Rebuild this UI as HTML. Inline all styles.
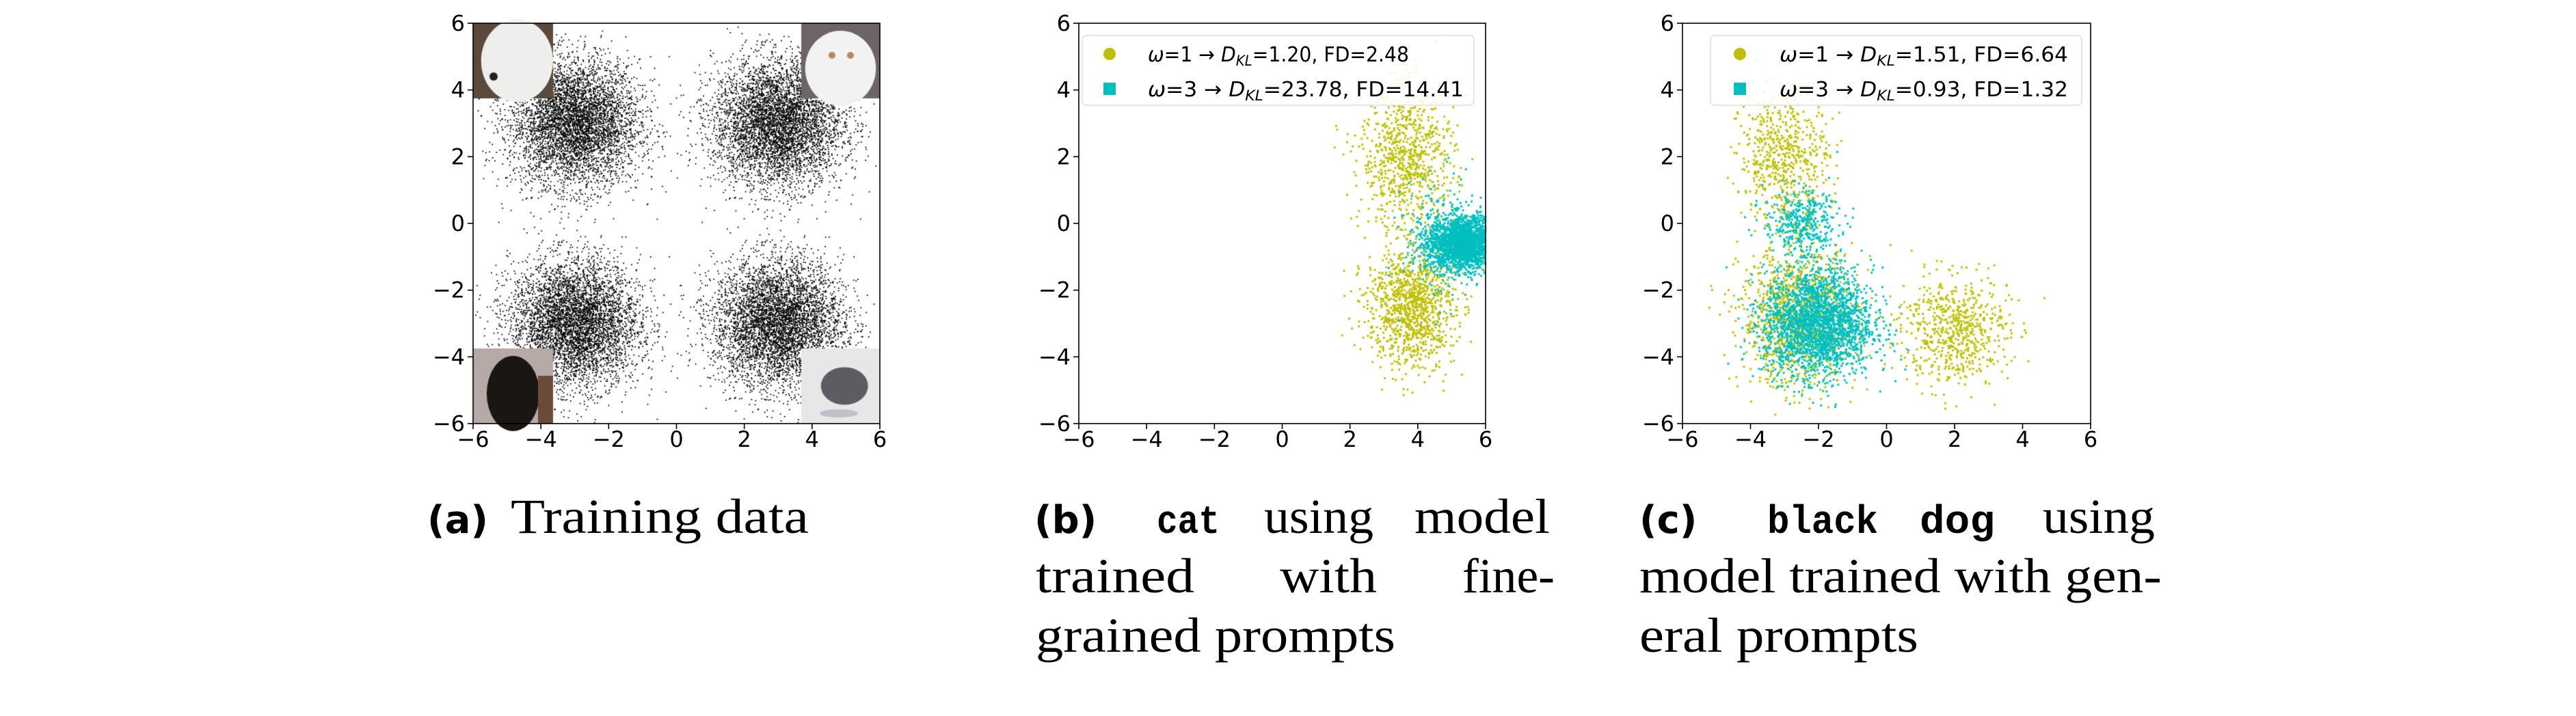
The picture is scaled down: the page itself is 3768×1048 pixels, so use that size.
<!DOCTYPE html>
<html><head><meta charset="utf-8">
<style>
html,body{margin:0;padding:0;background:#fff;}
#wrap{position:relative;width:3768px;height:1048px;overflow:hidden;background:#fff;}
canvas,svg{position:absolute;left:0;top:0;}
</style></head>
<body><div id="wrap">
<canvas id="cv" width="3768" height="1048"></canvas>
<svg width="3768" height="1048" xmlns="http://www.w3.org/2000/svg" id="sv">
<g id="axes"></g>
<g font-family="DejaVu Sans, sans-serif" font-size="30" fill="#000">
 <rect x="1583" y="52" width="573" height="102" rx="6" fill="#fff" fill-opacity="0.85" stroke="#ddd" stroke-width="1.5"/>
 <circle cx="1623" cy="79" r="9" fill="#bfbf00"/>
 <rect x="1614" y="121" width="18" height="18" fill="#00bfbf"/>
 <text x="1679" y="90" textLength="382" lengthAdjust="spacingAndGlyphs"><tspan font-style="italic">ω</tspan>=1 → <tspan font-style="italic">D</tspan><tspan font-style="italic" font-size="21" dy="6">KL</tspan><tspan dy="-6">=1.20, FD=2.48</tspan></text>
 <text x="1679" y="141" textLength="462" lengthAdjust="spacingAndGlyphs"><tspan font-style="italic">ω</tspan>=3 → <tspan font-style="italic">D</tspan><tspan font-style="italic" font-size="21" dy="6">KL</tspan><tspan dy="-6">=23.78, FD=14.41</tspan></text>

 <rect x="2502" y="52" width="543" height="102" rx="6" fill="#fff" fill-opacity="0.85" stroke="#ddd" stroke-width="1.5"/>
 <circle cx="2545" cy="79" r="9" fill="#bfbf00"/>
 <rect x="2536" y="121" width="18" height="18" fill="#00bfbf"/>
 <text x="2603" y="90" textLength="422" lengthAdjust="spacingAndGlyphs"><tspan font-style="italic">ω</tspan>=1 → <tspan font-style="italic">D</tspan><tspan font-style="italic" font-size="21" dy="6">KL</tspan><tspan dy="-6">=1.51, FD=6.64</tspan></text>
 <text x="2603" y="141" textLength="422" lengthAdjust="spacingAndGlyphs"><tspan font-style="italic">ω</tspan>=3 → <tspan font-style="italic">D</tspan><tspan font-style="italic" font-size="21" dy="6">KL</tspan><tspan dy="-6">=0.93, FD=1.32</tspan></text>
</g>
<g font-family="Liberation Serif, serif" font-size="72" fill="#000">
 <text x="625" y="780" font-family="DejaVu Sans, sans-serif" font-weight="bold" font-size="56">(a)</text>
 <text x="747" y="780" textLength="436" lengthAdjust="spacingAndGlyphs">Training data</text>

 <text x="1513" y="780" font-family="DejaVu Sans, sans-serif" font-weight="bold" font-size="56">(b)</text>
 <text x="1692" y="780" font-family="Liberation Mono, monospace" font-weight="bold" font-size="58" textLength="92" lengthAdjust="spacingAndGlyphs">cat</text>
 <text x="1849" y="780" textLength="160" lengthAdjust="spacingAndGlyphs">using</text>
 <text x="2069" y="780" textLength="198" lengthAdjust="spacingAndGlyphs">model</text>
 <text x="1515" y="867" textLength="232" lengthAdjust="spacingAndGlyphs">trained</text>
 <text x="1872" y="867" textLength="142" lengthAdjust="spacingAndGlyphs">with</text>
 <text x="2139" y="867" textLength="135" lengthAdjust="spacingAndGlyphs">fine-</text>
 <text x="1515" y="954" textLength="526" lengthAdjust="spacingAndGlyphs">grained prompts</text>

 <text x="2398" y="780" font-family="DejaVu Sans, sans-serif" font-weight="bold" font-size="56">(c)</text>
 <text x="2585" y="780" font-family="Liberation Mono, monospace" font-weight="bold" font-size="58" textLength="162" lengthAdjust="spacingAndGlyphs">black</text>
 <text x="2808" y="780" font-family="Liberation Mono, monospace" font-weight="bold" font-size="58" textLength="110" lengthAdjust="spacingAndGlyphs">dog</text>
 <text x="2988" y="780" textLength="164" lengthAdjust="spacingAndGlyphs">using</text>
 <text x="2398" y="867" textLength="764" lengthAdjust="spacingAndGlyphs">model trained with gen-</text>
 <text x="2398" y="954" textLength="408" lengthAdjust="spacingAndGlyphs">eral prompts</text>
</g>
</svg>
</div>
<script>
(function(){
var seed=12345;
function rnd(){seed=(seed*1103515245+12345)%2147483648;return seed/2147483648;}
function gauss(){var u=rnd()||1e-9,v=rnd();return Math.sqrt(-2*Math.log(u))*Math.cos(2*Math.PI*v);}
var plots=[{x0:692,x1:1287},{x0:1578,x1:2173},{x0:2461,x1:3058}];
var Y0=34,Y1=620;
var cv=document.getElementById('cv'),c=cv.getContext('2d');
function mx(p,v){return p.x0+(v+6)/12*(p.x1-p.x0);}
function my(v){return Y0+(6-v)/12*(Y1-Y0);}
function cluster(p,cx,cy,sx,sy,n,col,sz){
  c.fillStyle=col;
  for(var i=0;i<n;i++){var x=cx+gauss()*sx,y=cy+gauss()*sy;
    if(x<-6||x>6||y<-6||y>6)continue;
    c.fillRect(mx(p,x)-sz/2,my(y)-sz/2,sz,sz);}
}
var pa=plots[0];
[[-3,3],[3,3],[-3,-3],[3,-3]].forEach(function(q){cluster(pa,q[0],q[1],0.95,0.95,5000,'#000',1.8);});
function pic(x,y,w,h,bg,fg,fgx,fgy,rw,rh){
  c.fillStyle=bg;c.fillRect(x,y,w,h);
  c.fillStyle=fg;c.beginPath();c.ellipse(x+w*fgx,y+h*fgy,w*rw,h*rh,0,0,Math.PI*2);c.fill();
}
pic(692,34,117,110,'#5a4a3c','#eeeeec',0.55,0.5,0.45,0.55);
c.fillStyle='#222';c.beginPath();c.arc(692+30,34+78,6,0,7);c.fill();
pic(1172,34,115,110,'#6e6468','#f2f2f2',0.5,0.6,0.45,0.5);
c.fillStyle='#b8875a';c.beginPath();c.arc(1172+45,34+47,5,0,7);c.arc(1172+72,34+47,5,0,7);c.fill();
pic(692,510,117,110,'#b5aaa5','#1a1614',0.5,0.6,0.33,0.5);
c.fillStyle='#6b4a3a';c.fillRect(692+95,510+40,22,70);
pic(1172,510,115,110,'#e8e6e6','#5d5c63',0.55,0.5,0.3,0.25);
c.fillStyle='#bfc0c8';c.beginPath();c.ellipse(1172+55,510+95,28,6,0,0,7);c.fill();
var pb=plots[1],Y='#bfbf00',C='#00bfbf';
cluster(pb,3.7,2.0,0.7,1.05,800,Y,3);
cluster(pb,3.8,-2.5,0.65,0.9,1100,Y,3);
cluster(pb,5.4,-0.6,0.55,0.4,2200,C,3);
cluster(pb,4.8,-0.5,0.6,0.9,250,C,3);
var pc=plots[2];
cluster(pc,-3.0,2.0,0.65,0.95,600,Y,3);
cluster(pc,-2.6,-2.8,0.85,1.05,1100,Y,3);
cluster(pc,2.0,-3.2,0.8,0.8,650,Y,3);
cluster(pc,-2.5,0.0,0.55,0.5,400,C,3);
cluster(pc,-2.0,-3.0,0.8,0.8,2300,C,3);
var ns='http://www.w3.org/2000/svg',g=document.getElementById('axes');
function el(t,a,txt){var e=document.createElementNS(ns,t);for(var k in a)e.setAttribute(k,a[k]);if(txt!=null)e.textContent=txt;g.appendChild(e);return e;}
plots.forEach(function(p){
  el('rect',{x:p.x0,y:Y0,width:p.x1-p.x0,height:Y1-Y0,fill:'none',stroke:'#000','stroke-width':1.6});
  [-6,-4,-2,0,2,4,6].forEach(function(v){
    var X=mx(p,v),YY=my(v);
    el('line',{x1:X,y1:Y1,x2:X,y2:Y1+8,stroke:'#000','stroke-width':1.6});
    el('line',{x1:p.x0,y1:YY,x2:p.x0-8,y2:YY,stroke:'#000','stroke-width':1.6});
    var lab=v<0?'\u2212'+(-v):''+v;
    el('text',{x:X,y:654,'text-anchor':'middle','font-family':'DejaVu Sans, sans-serif','font-size':32},lab);
    el('text',{x:p.x0-12,y:YY+11,'text-anchor':'end','font-family':'DejaVu Sans, sans-serif','font-size':32},lab);
  });
});
})();
</script>
</body></html>
